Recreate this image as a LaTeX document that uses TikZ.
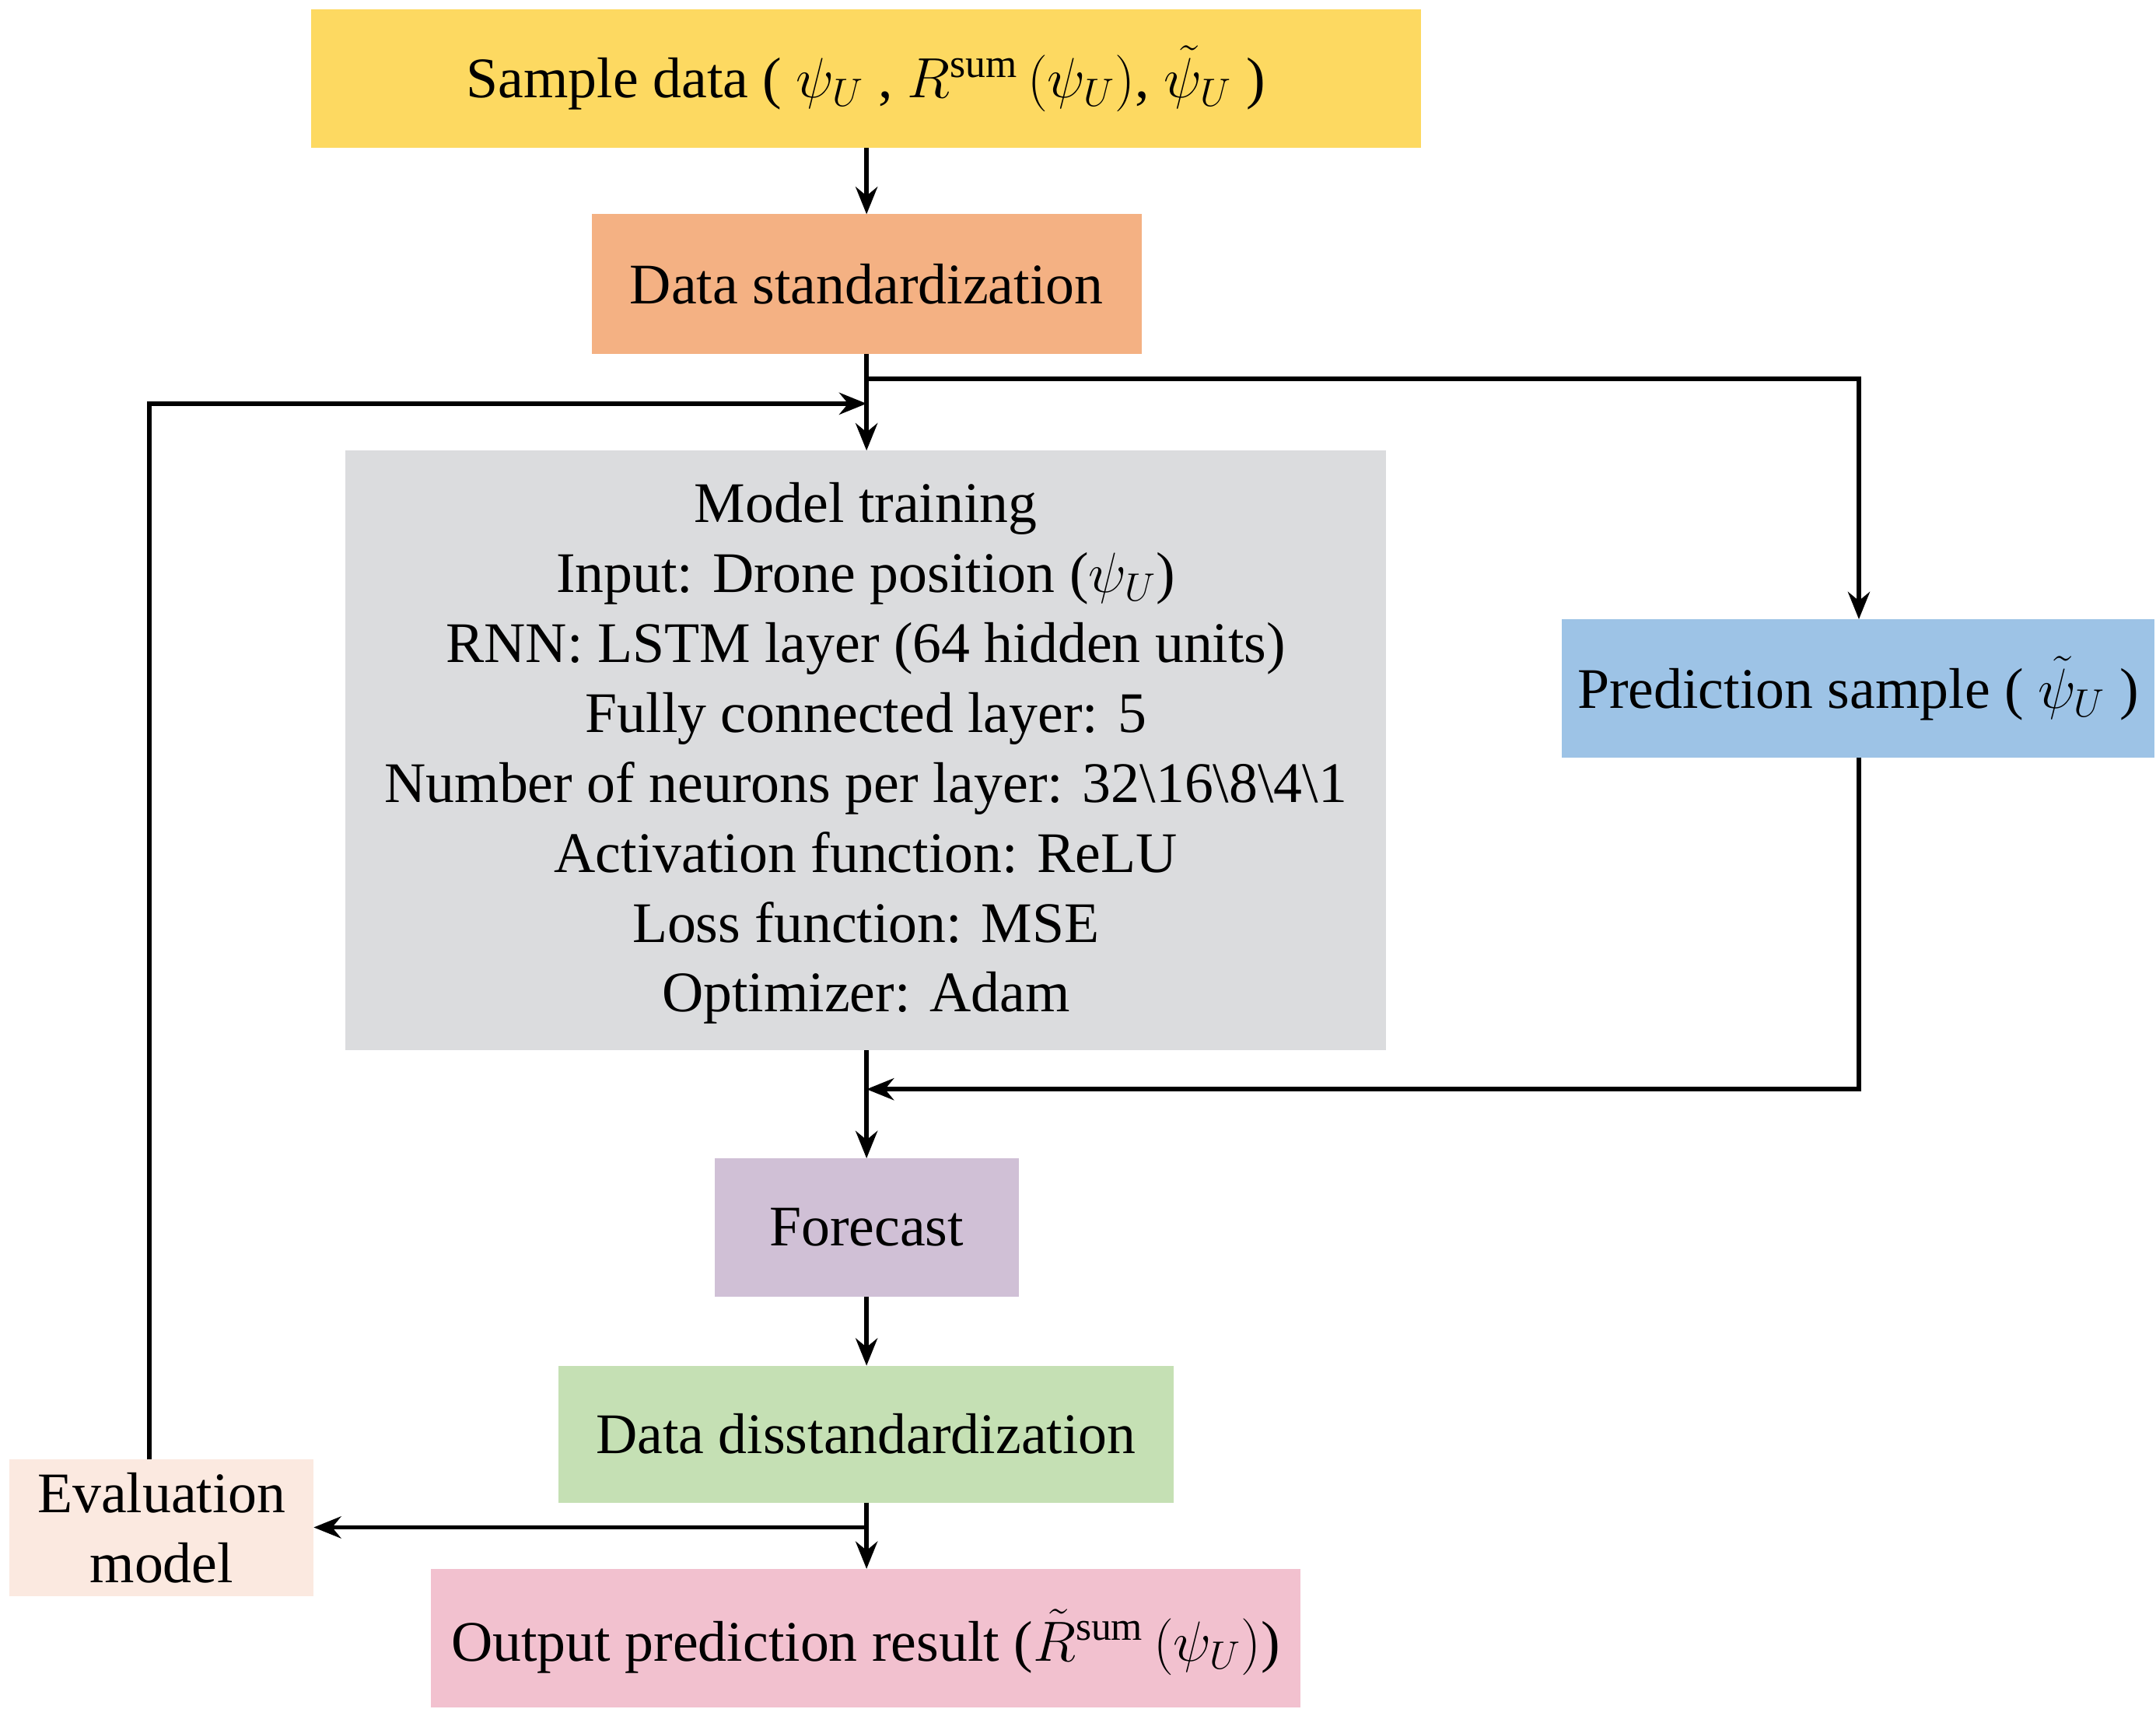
\documentclass[tikz,border=0pt]{standalone}
\usepackage{fontspec}
\setmainfont{Liberation Serif}
\usetikzlibrary{arrows.meta}
\definecolor{cy}{HTML}{FDD961}
\definecolor{co}{HTML}{F4B183}
\definecolor{cg}{HTML}{DBDCDE}
\definecolor{cb}{HTML}{9DC3E6}
\definecolor{cp}{HTML}{D0C0D6}
\definecolor{cgr}{HTML}{C5E0B4}
\definecolor{ce}{HTML}{FBE9E0}
\definecolor{cpk}{HTML}{F2C1CF}
\begin{document}
\begin{tikzpicture}[x=0.01777cm,y=-0.01777cm,
 box/.style={inner sep=0pt,align=center,font=\fontsize{21}{25.6}\selectfont},
 ar/.style={line width=1.6pt,-{Stealth[length=10pt,width=8pt]}},
 ln/.style={line width=1.6pt}]
\useasboundingbox (0,0) rectangle (1560,1241);
\newcommand\bx[5]{\fill[#5] (#1,#2) rectangle (#3,#4);}
\bx{225}{7}{1028}{107}{cy}
\node[box] (s) at (626.5,57) {Sample data ( $\psi_U$ , $R^{\mathrm{sum}}\left(\psi_U\right)$, $\tilde\psi_U$ )};
\coordinate (sb) at (627,107);
\bx{428}{155}{826}{256}{co}
\node[box] (d) at (627,205.5) {Data standardization};
\coordinate (dt) at (627,155); \coordinate (db) at (627,256);
\bx{250}{326}{1003}{760}{cg}
\node[box] (m) at (626.5,545) {Model training\\Input: Drone position ($\psi_U$)\\RNN: LSTM layer (64 hidden units)\\Fully connected layer: 5\\Number of neurons per layer: 32\textbackslash16\textbackslash8\textbackslash4\textbackslash1\\Activation function: ReLU\\Loss function: MSE\\Optimizer: Adam};
\coordinate (mt) at (627,326); \coordinate (mb) at (627,760);
\bx{1130}{448}{1559}{548}{cb}
\node[box] (p) at (1344.5,498) {Prediction sample ( $\tilde\psi_U$ )};
\coordinate (pt) at (1345,448); \coordinate (pb) at (1345,548);
\bx{517}{838}{737}{938}{cp}
\node[box] (f) at (627,888) {Forecast};
\coordinate (ft) at (627,838); \coordinate (fb) at (627,938);
\bx{404}{988}{849}{1087}{cgr}
\node[box] (g) at (626.5,1037.5) {Data disstandardization};
\coordinate (gt) at (627,988); \coordinate (gb) at (627,1087);
\bx{7}{1056}{227}{1155}{ce}
\node[box] (e) at (117,1105.5) {Evaluation\\model};
\coordinate (et) at (108,1056); \coordinate (er) at (227,1105);
\bx{312}{1135}{941}{1235}{cpk}
\node[box] (o) at (626.5,1188) {Output prediction result ($\tilde R^{\mathrm{sum}}\left(\psi_U\right)$)};
\coordinate (ot) at (627,1135);
\draw[ar] (sb) -- (dt);
\draw[ar] (db) -- (mt);
\draw[ar] (627,274) -- (1345,274) -- (pt);
\draw[ar] (et) -- (108,292) -- (627,292);
\draw[ar] (mb) -- (ft);
\draw[ar] (pb) -- (1345,788) -- (627,788);
\draw[ar] (fb) -- (gt);
\draw[ar] (gb) -- (ot);
\draw[ar] (627,1105) -- (er);
\end{tikzpicture}
\end{document}
